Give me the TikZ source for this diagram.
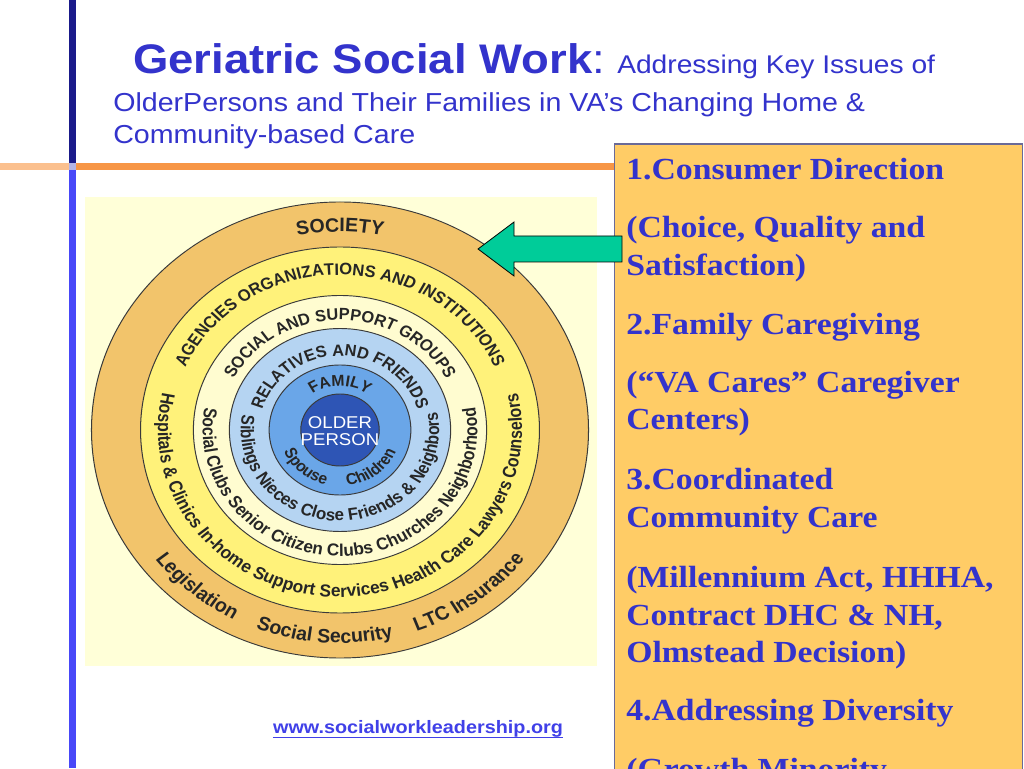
\documentclass[tikz,border=0pt]{standalone}
\usepackage{fontspec}
\setmainfont{Liberation Sans}
\newfontfamily\boxserif{Liberation Serif}
\newfontfamily\ringfont[FakeStretch=0.92]{Liberation Sans}
\usetikzlibrary{decorations.text}
\definecolor{titleblue}{HTML}{3333CC}
\definecolor{boxblue}{HTML}{3333CC}
\definecolor{urlblue}{HTML}{4040E8}
\definecolor{barnavy}{HTML}{1A1A8A}
\definecolor{barblue}{HTML}{4848F8}
\definecolor{barjoint}{HTML}{B4B4E6}
\definecolor{rulefade}{HTML}{FBC08E}
\definecolor{ruleorange}{HTML}{F79646}
\definecolor{boxfill}{HTML}{FFCC66}
\definecolor{boxedge}{HTML}{6A6A98}
\definecolor{arrowgreen}{HTML}{00CC99}
\definecolor{panel}{HTML}{FFFFD8}
\definecolor{ringsoc}{HTML}{F2C46B}
\definecolor{ringagency}{HTML}{FFF27A}
\definecolor{ringsocial}{HTML}{FFFCD0}
\definecolor{ringrel}{HTML}{B5D4F2}
\definecolor{ringfam}{HTML}{6AA6E8}
\definecolor{ringcore}{HTML}{2E55B5}
\definecolor{ringline}{HTML}{3A3A3A}
\definecolor{ringtext}{HTML}{262626}
\newcommand\fouter{\color{ringtext}\ringfont\bfseries\fontsize{14.6}{18}\selectfont}
\newcommand\fagencytop{\color{ringtext}\ringfont\bfseries\fontsize{12.4}{15}\selectfont}
\newcommand\fagencybot{\color{ringtext}\ringfont\bfseries\fontsize{13}{15}\selectfont}
\newcommand\fsocialtop{\color{ringtext}\ringfont\bfseries\fontsize{12.25}{15}\selectfont}
\newcommand\fsocialbot{\color{ringtext}\ringfont\bfseries\fontsize{12.85}{15}\selectfont}
\newcommand\freltop{\color{ringtext}\ringfont\bfseries\fontsize{12.25}{15}\selectfont}
\newcommand\frelbot{\color{ringtext}\ringfont\bfseries\fontsize{12.7}{15}\selectfont}
\newcommand\ffam{\color{ringtext}\ringfont\bfseries\fontsize{11.8}{14}\selectfont}
\tikzset{
  ring/.style={draw=ringline, line width=0.7pt},
  ringlabel/.style={decorate, decoration={text along path, text align=center, text={#1}}},
  boxtext/.style={anchor=base west, inner sep=0pt, text=boxblue,
    font=\boxserif\bfseries\fontsize{23}{27}\selectfont},
  subtext/.style={anchor=base west, inner sep=0pt, text=titleblue,
    font=\fontsize{19.5}{23}\selectfont},
}
\newcommand\boxline[3]{\node[boxtext] (#1) at (626,{768-#2}) {\scalebox{1.1}[1]{#3}};}
\begin{document}
\begin{tikzpicture}[x=0.75pt,y=0.75pt]
\useasboundingbox (0,0) rectangle (1024,768);
\fill[white] (0,0) rectangle (1024,768);
% bar and rule
\fill[barnavy] (69,605) rectangle (76,768);
\fill[barblue] (69,0) rectangle (76,598);
\fill[rulefade] (0,598) rectangle (69,605);
\fill[ruleorange] (76,598) rectangle (614,605);
\fill[barjoint] (69,598) rectangle (76,605);
% title
\node[anchor=base west, inner sep=0pt, text=titleblue] (title) at (133,694)
  {\scalebox{1.1}[1]{\bfseries\fontsize{31}{36}\selectfont Geriatric Social Work\mdseries:\hspace{8.4pt}\fontsize{19.2}{23}\selectfont Addressing Key Issues of}};
\node[subtext] (sub2) at (113,656) {\scalebox{1.1}[1]{OlderPersons and Their Families in VA’s Changing Home \&}};
\node[subtext] (sub3) at (113,624) {\scalebox{1.1}[1]{Community-based Care}};
% picture panel
\fill[panel] (85,571) rectangle (597,102);
% rings
\begin{scope}[transform canvas={xshift=-22.95pt, xscale=1.09}]
\begin{scope}[shift={(340,338)}]
  \draw[ring, fill=ringsoc] (0,0) circle[radius=228];
  \draw[ring, fill=ringagency] (0,0) circle[radius=183];
  \draw[ring, fill=ringsocial] (0,0) circle[radius=134.5];
  \draw[ring, fill=ringrel] (0,0) circle[radius=101.5];
  \draw[ring, fill=ringfam] (0,0) circle[radius=65];
  \draw[ring, fill=ringcore] (0,0) circle[radius=36];
  \path[ringlabel={|\fouter|SOCIETY}] (120:198) arc[start angle=120, end angle=60, radius=198];
  \path[ringlabel={|\fouter|Legislation}] (190:213) arc[start angle=190, end angle=270, radius=213];
  \path[ringlabel={|\fouter|Social Security}] (226:213) arc[start angle=226, end angle=306, radius=213];
  \path[ringlabel={|\fouter|LTC Insurance}] (266:213) arc[start angle=266, end angle=346, radius=213];
  \path[ringlabel={|\fagencytop|AGENCIES ORGANIZATIONS AND INSTITUTIONS}] (180:155) arc[start angle=180, end angle=0, radius=155];
  \path[ringlabel={|\fagencybot|Hospitals {\&} Clinics In-home Support Services Health Care Lawyers Counselors}] (150:167) arc[start angle=150, end angle=390, radius=167];
  \path[ringlabel={|\fsocialtop|SOCIAL AND SUPPORT GROUPS}] (180:110) arc[start angle=180, end angle=0, radius=110];
  \path[ringlabel={|\fsocialbot|Social Clubs Senior Citizen Clubs Churches Neighborhood}] (150:126) arc[start angle=150, end angle=390, radius=126];
  \path[ringlabel={|\freltop|RELATIVES AND FRIENDS}] (180:74) arc[start angle=180, end angle=0, radius=74];
  \path[ringlabel={|\frelbot|Siblings Nieces Close Friends {\&} Neighbors}] (151:91) arc[start angle=151, end angle=391, radius=91];
  \path[ringlabel={|\ffam|FAMILY}] (150:44) arc[start angle=150, end angle=30, radius=44];
  \path[ringlabel={|\ffam|Spouse}] (180:56) arc[start angle=180, end angle=279, radius=56];
  \path[ringlabel={|\ffam|Children}] (258:56) arc[start angle=258, end angle=356, radius=56];
  \node[text=white, align=center, inner sep=0pt, font=\fontsize{12.8}{12.5}\selectfont] (older) at (0,-1) {OLDER\\PERSON};
\end{scope}
\end{scope}
% right box
\draw[boxedge, fill=boxfill, line width=0.8pt] (614.5,624) rectangle (1022.5,-20);
% arrow
\draw[black, fill=arrowgreen, line width=0.6pt] (478,519) -- (514,546) -- (514,532) -- (622,532)
  -- (622,506) -- (514,506) -- (514,492) -- cycle;
% box text
\boxline{b1}{180}{1.Consumer Direction}
\boxline{b2}{238}{(Choice, Quality and}
\boxline{b3}{276}{Satisfaction)}
\boxline{b4}{335}{2.Family Caregiving}
\boxline{b5}{393}{(“VA Cares” Caregiver}
\boxline{b6}{430}{Centers)}
\boxline{b7}{490}{3.Coordinated}
\boxline{b8}{528}{Community Care}
\boxline{b9}{587}{(Millennium Act, HHHA,}
\boxline{b10}{625}{Contract DHC \& NH,}
\boxline{b11}{662}{Olmstead Decision)}
\boxline{b12}{720}{4.Addressing Diversity}
\boxline{b13}{779}{(Growth Minority}
% url
\node[anchor=base, inner sep=0pt, text=urlblue, font=\bfseries\fontsize{13.5}{16}\selectfont] (url) at (418,35)
  {\scalebox{1.1}[1]{www.socialworkleadership.org}};
\draw[urlblue, line width=1pt] ([yshift=-3.5]url.base west) -- ([yshift=-3.5]url.base east);
\end{tikzpicture}
\end{document}
